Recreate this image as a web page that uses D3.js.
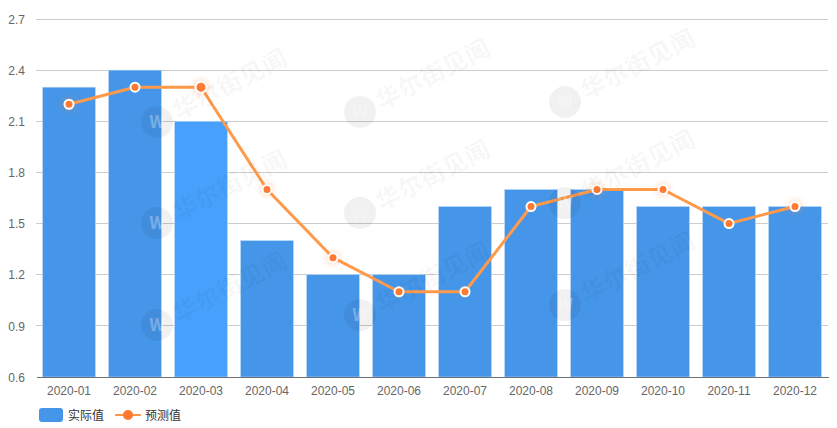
<!DOCTYPE html>
<html><head><meta charset="utf-8">
<script src="https://cdn.jsdelivr.net/npm/d3@7/dist/d3.min.js"></script>
<style>
html,body{margin:0;padding:0;background:#fff;}
svg{display:block;font-family:"Noto Sans CJK SC","Noto Sans",sans-serif;}
</style></head>
<body>
<svg id="chart" width="837" height="428"></svg>
<script>
const categories = ["2020-01","2020-02","2020-03","2020-04","2020-05","2020-06","2020-07","2020-08","2020-09","2020-10","2020-11","2020-12"];
const actualValues = [2.3, 2.4, 2.1, 1.4, 1.2, 1.2, 1.6, 1.7, 1.7, 1.6, 1.6, 1.6];
const forecastValues = [2.2, 2.3, 2.3, 1.7, 1.3, 1.1, 1.1, 1.6, 1.7, 1.7, 1.5, 1.6];
const yTicks = [0.6, 0.9, 1.2, 1.5, 1.8, 2.1, 2.4, 2.7];
const seriesNames = ["实际值", "预测值"];
const watermarkText = "华尔街见闻";

const svg = d3.select("#chart");
const margin = {left: 36, right: 9, top: 19, bottom: 51};
const W = 837, H = 428;
const x = d3.scaleBand().domain(categories).range([margin.left, W - margin.right]).paddingInner(0.2).paddingOuter(0.1);
const y = d3.scaleLinear().domain([0.6, 2.7]).range([H - margin.bottom, margin.top]);

const defs = svg.append("defs");
const f = defs.append("filter").attr("id","glow").attr("x","-100%").attr("y","-100%").attr("width","300%").attr("height","300%");
f.append("feGaussianBlur").attr("in","SourceAlpha").attr("stdDeviation",3).attr("result","b");
f.append("feFlood").attr("flood-color","#ff7a30").attr("flood-opacity",0.45);
f.append("feComposite").attr("in2","b").attr("operator","in").attr("result","g");
const m = f.append("feMerge"); m.append("feMergeNode").attr("in","g"); m.append("feMergeNode").attr("in","SourceGraphic");

// grid
svg.append("g").selectAll("line").data(yTicks.slice(1)).join("line")
  .attr("x1", margin.left).attr("x2", W - margin.right)
  .attr("y1", d => y(d)).attr("y2", d => y(d))
  .attr("stroke", "#cccccc").attr("stroke-width", 1).attr("shape-rendering","crispEdges");

// y axis
const yAxis = svg.append("g").attr("transform", `translate(${margin.left - 8},0)`)
  .call(d3.axisLeft(y).tickValues(yTicks).tickSize(0).tickFormat(d3.format(".1f")));
yAxis.select(".domain").remove();
yAxis.selectAll("text").attr("fill","#666").attr("font-size",12).attr("dx",0).attr("dy","0.35em");

// bars
svg.append("g").selectAll("rect").data(actualValues).join("rect")
  .attr("x", (d,i) => x(categories[i]))
  .attr("width", x.bandwidth())
  .attr("y", d => y(d))
  .attr("height", d => y(0.6) - y(d))
  .attr("fill", (d,i) => i === 2 ? "#47a0fc" : "#4596e9")
  .attr("stroke", "#b9d8f7").attr("stroke-width", 0.6);

// x axis
const xAxis = svg.append("g").attr("transform", `translate(0,${y(0.6)})`)
  .call(d3.axisBottom(x).tickSize(0).tickPadding(9));
xAxis.select(".domain").attr("stroke","#6e7079").attr("shape-rendering","crispEdges");
xAxis.selectAll("text").attr("fill","#666").attr("font-size",12);

// line
const line = d3.line().x((d,i) => x(categories[i]) + x.bandwidth()/2).y(d => y(d));
svg.append("path").datum(forecastValues).attr("d", line)
  .attr("fill","none").attr("stroke","#ff9a4a").attr("stroke-width",3).attr("stroke-linejoin","round");
svg.append("g").selectAll("circle").data(forecastValues).join("circle")
  .attr("cx", (d,i) => x(categories[i]) + x.bandwidth()/2)
  .attr("cy", d => y(d))
  .attr("r", (d,i) => i === 2 ? 5.5 : 4.5)
  .attr("fill","#ff7a30").attr("stroke","#fff").attr("stroke-width",2)
  .attr("filter", (d,i) => [0,2,3,4,8,9,11].includes(i) ? "url(#glow)" : null);

// watermark
const wmCols = [157, 360, 565];
const wmRows = [122, 223, 325];
const wm = svg.append("g").attr("pointer-events","none");
wmCols.forEach((cx, ci) => {
  wmRows.forEach(ry => {
    const cy = ry - ci * 10;
    const g = wm.append("g").attr("transform", `translate(${cx},${cy})`);
    g.append("circle").attr("r", 16).attr("fill", "#000").attr("fill-opacity", 0.055);
    g.append("text").attr("text-anchor","middle").attr("dy","0.38em").attr("font-size",17).attr("font-weight","bold")
      .attr("fill","#fff").attr("fill-opacity",0.3).text("W");
    g.append("text").attr("transform","rotate(-27)").attr("x", 20).attr("y", 8)
      .attr("font-size", 24).attr("font-weight","bold").attr("fill","#000").attr("fill-opacity",0.05)
      .attr("letter-spacing", 1).text(watermarkText);
  });
});

// legend
const lg = svg.append("g");
lg.append("rect").attr("x",39).attr("y",408).attr("width",24).attr("height",14).attr("rx",3).attr("fill","#4596e9");
lg.append("text").attr("x",68).attr("y",419.5).attr("font-size",12).attr("fill","#333").text(seriesNames[0]);
lg.append("line").attr("x1",115).attr("x2",141).attr("y1",415).attr("y2",415).attr("stroke","#ff9a4a").attr("stroke-width",2);
lg.append("circle").attr("cx",128).attr("cy",415).attr("r",5).attr("fill","#ff7a30");
lg.append("text").attr("x",145).attr("y",419.5).attr("font-size",12).attr("fill","#333").text(seriesNames[1]);
</script>
</body></html>
